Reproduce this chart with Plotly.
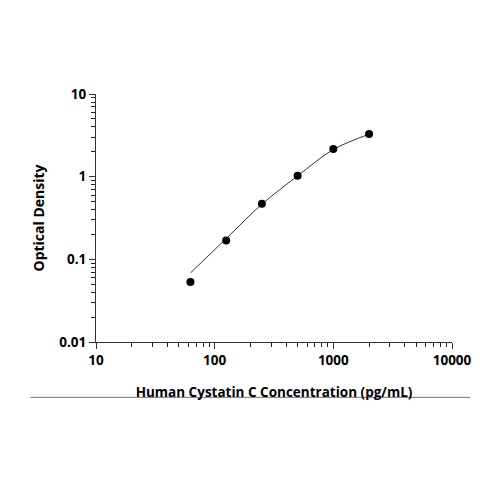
import plotly.graph_objects as go

concentration = [62.5, 125, 250, 500, 1000, 2000]
optical_density = [0.0533, 0.169, 0.469, 1.025, 2.16, 3.28]
fit_od = [0.0685, 0.178, 0.465, 1.02, 2.13, 3.26]

x_range_log = [1, 4]
y_range_log = [-2, 1]

font_family = "Open Sans"

# page is offset 8px by the body margin; margins compensate
L, R, T, B = 87.7, 56.3, 86.0, 166.3
PW, PH = 500 - L - R, 500 - T - B


def minor_positions(lo_exp, hi_exp):
    return [m * 10.0 ** e for e in range(lo_exp, hi_exp) for m in range(2, 10)]


fig = go.Figure()
fig.add_trace(go.Scatter(
    x=concentration, y=fit_od, mode="lines",
    line=dict(color="#333333", width=1, shape="spline", smoothing=1.0),
    hoverinfo="skip", showlegend=False))
fig.add_trace(go.Scatter(
    x=concentration, y=optical_density, mode="markers",
    marker=dict(color="black", size=8),
    showlegend=False))
# invisible helpers so the minor-tick overlay axes are drawn
fig.add_trace(go.Scatter(x=concentration, y=optical_density, xaxis="x2", yaxis="y",
                         mode="markers", marker=dict(opacity=0), hoverinfo="skip", showlegend=False))
fig.add_trace(go.Scatter(x=concentration, y=optical_density, xaxis="x", yaxis="y2",
                         mode="markers", marker=dict(opacity=0), hoverinfo="skip", showlegend=False))

axis_common = dict(
    type="log", showgrid=False, zeroline=False,
    showline=True, linecolor="#333333", linewidth=1,
    ticks="outside", ticklen=6, tickcolor="#333333",
    tickmode="linear", tick0=0, dtick=1, exponentformat="none",
    tickfont=dict(family=font_family, size=13.5, color="black", weight="bold"),
)

fig.update_layout(
    xaxis=dict(
        range=x_range_log, tickformat="d",
        title=dict(text="Human Cystatin C Concentration (pg/mL)", standoff=19,
                   font=dict(family=font_family, size=13.5, color="black", weight="bold")),
        **axis_common),
    yaxis=dict(
        range=y_range_log,
        title=dict(text="Optical Density", standoff=11,
                   font=dict(family=font_family, size=14, color="black", weight="bold")),
        **axis_common),
    xaxis2=dict(type="log", range=x_range_log, overlaying="x", anchor="y", side="bottom",
                tickmode="array", tickvals=minor_positions(1, 4), ticks="outside",
                ticklen=4, tickwidth=1, tickcolor="#222222", showticklabels=False, showgrid=False,
                zeroline=False, showline=False),
    yaxis2=dict(type="log", range=y_range_log, overlaying="y", anchor="x", side="left",
                tickmode="array", tickvals=minor_positions(-2, 1), ticks="outside",
                ticklen=4, tickwidth=1, tickcolor="#222222", showticklabels=False, showgrid=False,
                zeroline=False, showline=False),
)

line_y = (500 - B - (397 - 8)) / PH
fig.add_shape(type="line", xref="paper", yref="paper",
              x0=(30 - 8 - L) / PW, x1=(470 - 8 - L) / PW,
              y0=line_y, y1=line_y,
              line=dict(color="#777777", width=1))

fig.update_layout(
    width=500, height=500,
    margin=dict(l=L, r=R, t=T, b=B),
    plot_bgcolor="white", paper_bgcolor="white",
)

fig.write_html("out.html")
